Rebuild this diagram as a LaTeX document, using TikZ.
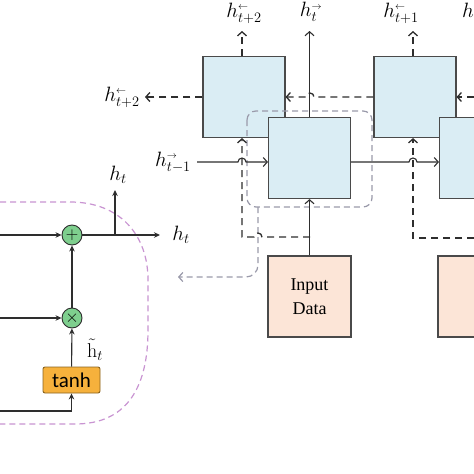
\documentclass[tikz,border=0pt]{standalone}
\usepackage{fontspec}
\usepackage{amsmath}
\newfontfamily\tanhfont{Carlito}
\newfontfamily\inputfont{Liberation Serif}
\usetikzlibrary{arrows.meta,calc}
\definecolor{boxblue}{HTML}{DAEDF4}
\definecolor{peach}{HTML}{FCE5D7}
\definecolor{edge}{HTML}{4A4A4A}
\definecolor{ink}{HTML}{2E2E2E}
\definecolor{graydash}{HTML}{9A9AAA}
\definecolor{pinkdash}{HTML}{C994D2}
\definecolor{gatefill}{HTML}{7ECF8E}
\definecolor{tanhfill}{HTML}{F6B13C}
\definecolor{tanhedge}{HTML}{8A6420}
\tikzset{
  cellbox/.style={draw=edge, line width=1.1pt, fill=boxblue, minimum width=82pt, minimum height=81pt, inner sep=0pt},
  inbox/.style={draw=edge, line width=1.1pt, fill=peach, minimum width=83pt, minimum height=81pt, inner sep=0pt, align=center, font=\inputfont\fontsize{18}{24}\selectfont},
  gate/.style={circle, draw=ink, line width=0.9pt, fill=gatefill, minimum size=20pt, inner sep=0pt, font=\fontsize{16}{16}\selectfont},
  tanhbox/.style={draw=tanhedge, line width=0.9pt, fill=tanhfill, rounded corners=2pt, minimum width=57pt, minimum height=26pt, inner sep=0pt, font=\tanhfont\fontsize{21}{21}\selectfont},
  lbl/.style={inner sep=0pt, font=\fontsize{20}{22}\selectfont},
  solidarr/.style={draw=ink, line width=1.1pt, -{Straight Barb[length=4pt,width=9pt]}},
  dasharr/.style={draw=ink, line width=1.3pt, dash pattern=on 7pt off 5pt, -{Straight Barb[length=4pt,width=9pt]}},
  grayd/.style={draw=graydash, line width=1.2pt, dash pattern=on 6pt off 4pt},
  filledarr/.style={draw=ink, line width=1.1pt, -{Stealth[length=6pt,width=5.5pt]}},
}
\begin{document}
\begin{tikzpicture}[x=1pt,y=-1pt]
\useasboundingbox (0,0) rectangle (474,474);
\fill[white] (0,0) rectangle (474,474);

% ---------- left cell (partial) ----------
\draw[draw=pinkdash, line width=1.2pt, dash pattern=on 6pt off 4pt]
  (0,202) -- (70,202) .. controls (120,202) and (148,235) .. (148,280)
  -- (148,330) .. controls (148,390) and (125,424) .. (75,424) -- (0,424);

\node[gate] (plus) at (72,235) {$+$};
\node[gate] (times) at (72,318) {$\times$};
\node[tanhbox] (tanh) at (71.5,380) {tanh};

\coordinate (inplus) at (0,235);
\coordinate (intimes) at (0,318);
\coordinate (intanh) at (0,411);
\coordinate (outh) at (160,235);
\coordinate (branch) at (115,235);
\coordinate (uph) at (115,190);

\draw[filledarr] (inplus) -- (plus);
\draw[filledarr] (intimes) -- (times);
\draw[filledarr] (times) -- (plus);
\draw[filledarr] (tanh) -- (times);
\draw[filledarr] (intanh) -| (tanh.south);
\draw[filledarr] (plus) -- (outh);
\draw[filledarr] (branch) -- (uph);

\node[lbl] (lht1) at (118,175) {$h_t$};
\node[lbl] (lht2) at (181,235) {$h_t$};
\node[lbl] (lhtil) at (95,350) {$\tilde{\mathrm{h}}_t$};

% ---------- right part: boxes ----------
\node[cellbox] (A) at (244,97) {};
\node[cellbox] (C) at (415,97) {};
\node[cellbox] (B) at (309.5,158) {};
\node[cellbox] (D) at (480.5,158) {};
\node[inbox] (In1) at (309.5,296.5) {Input\\Data};
\node[inbox] (In2) at (479.5,296.5) {};

% gray dashed rounded group
\draw[grayd, rounded corners=9pt] (247,111) rectangle (372,207);
\coordinate (gstart) at (258,207);
\coordinate (gend) at (178,277);
\draw[grayd, rounded corners=12pt, -{Straight Barb[length=4pt,width=9pt]}] (gstart) -- (258,277) -- (gend);

% labels
\node[lbl] (tA) at (244,13) {$h_{t+2}^{\scriptscriptstyle\leftarrow}$};
\node[lbl] (tB) at (311,12) {$h_{t}^{\scriptscriptstyle\rightarrow}$};
\node[lbl] (tC) at (401,13) {$h_{t+1}^{\scriptscriptstyle\leftarrow}$};
\node[lbl, anchor=west] (tD) at (462,13) {$h_{t}^{\scriptscriptstyle\leftarrow}$};
\node[lbl] (lA) at (122,97) {$h_{t+2}^{\scriptscriptstyle\leftarrow}$};
\node[lbl] (lB) at (173,162) {$h_{t-1}^{\scriptscriptstyle\rightarrow}$};

\coordinate (Atop) at (242,31);
\coordinate (Ctop) at (413,31);
\coordinate (Btop) at (309.5,31);
\coordinate (Aleft) at (145,97);
\coordinate (Cright) at (474,97);
\coordinate (Bleft) at (197,162);
\coordinate (fbA) at (310,237);
\coordinate (fbC) at (474,238);

% backward outputs
\draw[dasharr] (A.north -| Atop) -- (Atop);
\draw[dasharr] (C.north -| Ctop) -- (Ctop);
\draw[dasharr] (A.west) -- (Aleft);
\draw[dasharr] (Cright) -- (C.east);
% C -> A with hop over the h_t line
\draw[dasharr] (C.west) -- (314,97) arc[start angle=0, end angle=-180, radius=4] -- (A.east);

% forward
\draw[solidarr] (B.north -| Btop) -- (Btop);
\draw[solidarr] (Bleft) -- (238,162) arc[start angle=180, end angle=360, radius=4] -- (B.west |- Bleft);
\draw[solidarr] (B.east |- Bleft) -- (409,162) arc[start angle=180, end angle=360, radius=4] -- (D.west |- Bleft);

% inputs
\draw[solidarr] (In1.north) -- (B.south);
\draw[dasharr] (fbA) -- (262,237) arc[start angle=0, end angle=-180, radius=4] -- (242,237) -- (A.south -| 242,0);
\draw[dasharr] (fbC) -- (413,238) -- (C.south -| 413,0);
\end{tikzpicture}
\end{document}
